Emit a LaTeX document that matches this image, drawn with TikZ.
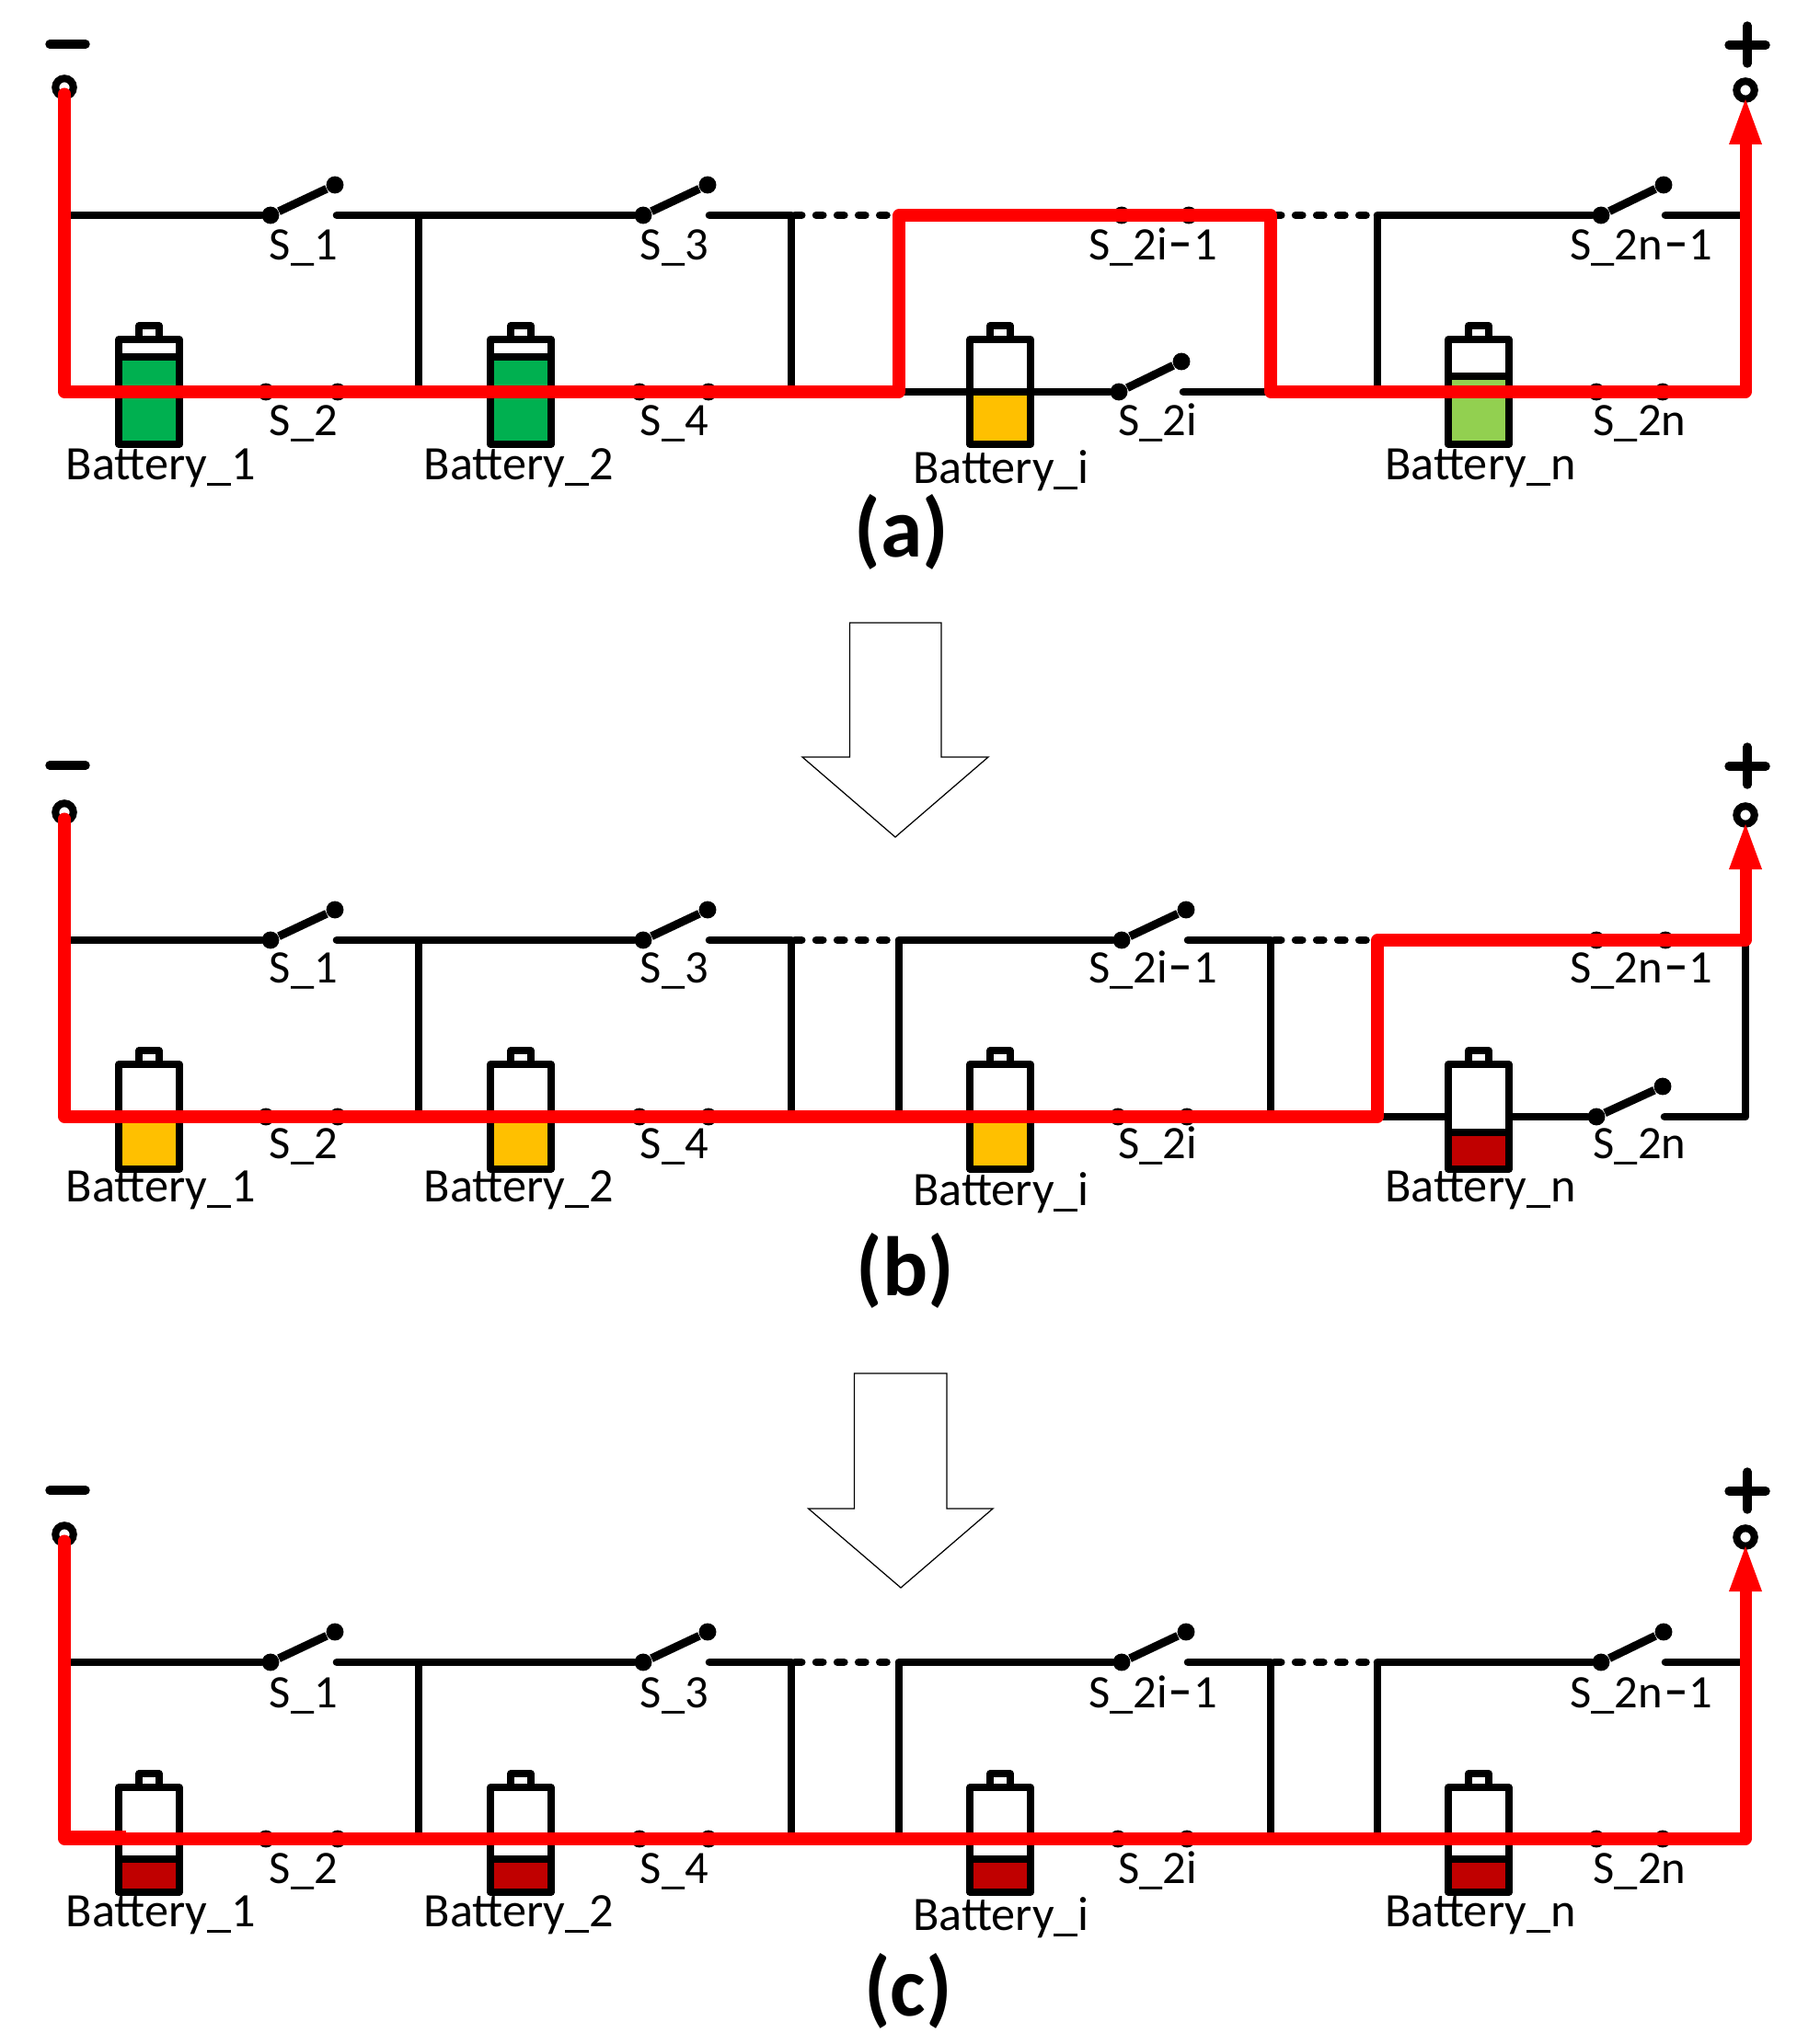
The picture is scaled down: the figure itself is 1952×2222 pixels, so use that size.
\documentclass[tikz,border=0pt]{standalone}
\usepackage{fontspec}
\usepackage{graphicx}
\setmainfont{Carlito}
\definecolor{fullgreen}{HTML}{00B050}
\definecolor{midgreen}{HTML}{92D050}
\definecolor{amber}{HTML}{FFC000}
\definecolor{lowred}{HTML}{C00000}
\definecolor{pathred}{HTML}{FF0000}
\tikzset{
 wire/.style={line width=3.1pt,line cap=round,line join=round,black},
 dotwire/.style={line width=3.1pt,line cap=round,dash pattern=on 2.6pt off 5.7pt,black},
 blade/.style={line width=3.2pt,black},
 vwire/.style={line width=2.8pt,black},
 swdot/.style={circle,fill=black,inner sep=0pt,minimum size=6.8pt},
 terminal/.style={circle,draw=black,fill=white,line width=2.9pt,inner sep=0pt,minimum size=7pt},
 sign/.style={line width=3.4pt,line cap=round,black},
 power/.style={line width=4.7pt,pathred,line join=round,line cap=round},
 powertip/.style={fill=pathred,draw=none},
 swlabel/.style={font=\fontsize{18.2}{20}\selectfont,inner sep=0pt,anchor=base},
 batlabel/.style={font=\fontsize{18.8}{20}\selectfont,inner sep=0pt,anchor=base},
 caption/.style={font=\bfseries\fontsize{33}{36}\selectfont,inner sep=0pt,anchor=base},
 battbody/.style={draw=black,fill=white,line width=2.7pt,line join=round,inner sep=0pt,minimum width=23.8pt,minimum height=41pt},
 battline/.style={draw=black,line width=2.7pt,line join=round},
 bigarrow/.style={draw=black,fill=white,line width=0.45pt}
}
\newcommand{\hy}{\kern0.7pt\scalebox{1.6}[1.15]{-}\kern0.7pt}
\newcommand{\openSw}[4]{%
 \node[swdot] (#1L) at (#2,#4) {};
 \node[swdot] (#1R) at (#3,#4-33) {};
 \draw[blade] (#1L) -- (#1R);
 \coordinate (#1E) at (#3+2,#4);}
\newcommand{\closedSw}[4]{%
 \node[swdot] (#1L) at (#2,#4) {};
 \node[swdot] (#1R) at (#3,#4) {};}
\newcommand{\junctions}[2]{%
 \coordinate (#1T0) at (70,234); \coordinate (#1B0) at (70,426);
 \coordinate (#1T1) at (455,234); \coordinate (#1B1) at (455,426);
 \coordinate (#1T2) at (860,234); \coordinate (#1B2) at (860,426);
 \coordinate (#1T3) at (977,234); \coordinate (#1B3) at (977,426);
 \coordinate (#1T4) at (1381,234); \coordinate (#1B4) at (1381,426);
 \coordinate (#1T5) at (1497,234); \coordinate (#1B5) at (1497,426);
 \coordinate (#1T6) at (1897,234); \coordinate (#1B6) at (1897,426);
 \coordinate (#1D2) at (864,234); \coordinate (#1D3) at (976,234);
 \coordinate (#1D4) at (1385,234); \coordinate (#1D5) at (1497,234);
 \coordinate (#1Base) at (1897,157); \coordinate (#1Tip) at (1897,108);
 \coordinate (#1Start) at (70,102);
 \node[terminal] (#1Neg) at (70,95) {};
 \node[terminal] (#1Pos) at (1897,98) {};
 \begin{scope}[shift={(0,#2)}]
 \coordinate (#1MinL) at (54,47); \coordinate (#1MinR) at (93,47);
 \coordinate (#1PlL) at (1879,48); \coordinate (#1PlR) at (1919,48);
 \coordinate (#1PlT) at (1899,27); \coordinate (#1PlB) at (1899,68);
 \draw[sign] (#1MinL) -- (#1MinR);
 \draw[sign] (#1PlL) -- (#1PlR);
 \draw[sign] (#1PlT) -- (#1PlB);
 \end{scope}
}
\newcommand{\battery}[4]{% name, left x, fill top, colour
 \draw[battline,fill=white] (#2+25,354) rectangle (#2+47,370);
 \node[battbody] (#1) at (#2+36,426) {};
 \draw[battline,fill=#4] (#2+3,#3) rectangle (#2+69,482.5);
}
\newcommand{\labels}[2]{%
 \begin{scope}[shift={(0,#2)}]
 \node[swlabel] (#1l1) at (330,283) {S\_1};
 \node[swlabel] (#1l3) at (733,283) {S\_3};
 \node[swlabel] (#1l5) at (1253,283) {S\_2i\hy1};
 \node[swlabel] (#1l7) at (1784,283) {S\_2n\hy1};
 \node[swlabel] (#1l2) at (330,474) {S\_2};
 \node[swlabel] (#1l4) at (733,474) {S\_4};
 \node[swlabel] (#1l6) at (1258,474) {S\_2i};
 \node[swlabel] (#1l8) at (1782,474) {S\_2n};
 \node[batlabel] (#1b1) at (175,521) {Battery\_1};
 \node[batlabel] (#1b2) at (564,521) {Battery\_2};
 \node[batlabel] (#1b3) at (1088,525) {Battery\_i};
 \node[batlabel] (#1b4) at (1609,521) {Battery\_n};
 \end{scope}
}
\begin{document}
\begin{tikzpicture}[x=0.36pt,y=-0.36pt]
\useasboundingbox (0,0) rectangle (1952,2222);
%%% panel a
\begin{scope}
 \junctions{a}{1}
 \openSw{aS1}{294}{364}{234}
 \openSw{aS3}{699}{769}{234}
 \closedSw{aS5}{1219}{1292}{234}
 \openSw{aS7}{1740}{1808}{234}
 \closedSw{aS2}{289}{367}{426}
 \closedSw{aS4}{695}{770}{426}
 \openSw{aS6}{1216}{1284}{426}
 \closedSw{aS8}{1735}{1807}{426}
 \draw[wire] (aT0) -- (aS1L);
 \draw[wire] (aS1E) -- (aT1) -- (aS3L);
 \draw[wire] (aS3E) -- (aT2);
 \draw[dotwire] (aD2) -- (aD3);
 \draw[dotwire] (aD4) -- (aD5);
 \draw[wire] (aT5) -- (aS7L);
 \draw[wire] (aS7E) -- (aT6);
 \draw[wire] (aB3) -- (aS6L);
 \draw[wire] (aS6E) -- (aB4);
 \draw[vwire] (aT1) -- (aB1);
 \draw[vwire] (aT2) -- (aB2);
 \draw[vwire] (aT5) -- (aB5);
 \battery{aBat1}{126}{388}{fullgreen}
 \battery{aBat2}{530}{388}{fullgreen}
 \battery{aBat3}{1051}{426}{amber}
 \battery{aBat4}{1571}{409}{midgreen}
 \draw[power] (aStart) -- (aB0) -- (aB3) -- (aT3) -- (aT4) -- (aB4) -- (aB6) -- (aBase);
 \draw[powertip] (1879,157) -- (aTip) -- (1915,157) -- cycle;
 \labels{a}{0}
 \node[caption] (capA) at (980,605) {(a)};
\end{scope}
%%% arrow 1
\draw[bigarrow] (923.4,677) -- (1023,677) -- (1023,823) -- (1074,823) -- (973,910) -- (872,823) -- (923.4,823) -- cycle;
%%% panel b
\begin{scope}[shift={(0,788)}]
 \junctions{b}{-3}
 \openSw{bS1}{294}{364}{234}
 \openSw{bS3}{699}{769}{234}
 \openSw{bS5}{1219}{1289}{234}
 \closedSw{bS7}{1735}{1810}{234}
 \closedSw{bS2}{289}{367}{426}
 \closedSw{bS4}{695}{770}{426}
 \closedSw{bS6}{1215}{1290}{426}
 \openSw{bS8}{1735}{1807}{426}
 \draw[wire] (bT0) -- (bS1L);
 \draw[wire] (bS1E) -- (bT1) -- (bS3L);
 \draw[wire] (bS3E) -- (bT2);
 \draw[dotwire] (bD2) -- (bD3);
 \draw[wire] (bT3) -- (bS5L);
 \draw[wire] (bS5E) -- (bT4);
 \draw[dotwire] (bD4) -- (bD5);
 \draw[wire] (bB5) -- (bS8L);
 \draw[wire] (bS8E) -- (bB6) -- (bT6);
 \draw[vwire] (bT1) -- (bB1);
 \draw[vwire] (bT2) -- (bB2);
 \draw[vwire] (bT3) -- (bB3);
 \draw[vwire] (bT4) -- (bB4);
 \battery{bBat1}{126}{426}{amber}
 \battery{bBat2}{530}{426}{amber}
 \battery{bBat3}{1051}{426}{amber}
 \battery{bBat4}{1571}{443}{lowred}
 \draw[power] (bStart) -- (bB0) -- (bB5) -- (bT5) -- (bT6) -- (bBase);
 \draw[powertip] (1879,157) -- (bTip) -- (1915,157) -- cycle;
 \labels{b}{-3}
 \node[caption] (capB) at (984,620) {(b)};
\end{scope}
%%% arrow 2
\draw[bigarrow] (928.4,1493) -- (1029,1493) -- (1029,1640) -- (1079,1640) -- (979,1726) -- (878.6,1640) -- (928.4,1640) -- cycle;
%%% panel c
\begin{scope}[shift={(0,1573)}]
 \junctions{c}{0}
 \openSw{cS1}{294}{364}{234}
 \openSw{cS3}{699}{769}{234}
 \openSw{cS5}{1219}{1289}{234}
 \openSw{cS7}{1740}{1808}{234}
 \closedSw{cS2}{289}{367}{426}
 \closedSw{cS4}{695}{770}{426}
 \closedSw{cS6}{1215}{1290}{426}
 \closedSw{cS8}{1735}{1807}{426}
 \draw[wire] (cT0) -- (cS1L);
 \draw[wire] (cS1E) -- (cT1) -- (cS3L);
 \draw[wire] (cS3E) -- (cT2);
 \draw[dotwire] (cD2) -- (cD3);
 \draw[wire] (cT3) -- (cS5L);
 \draw[wire] (cS5E) -- (cT4);
 \draw[dotwire] (cD4) -- (cD5);
 \draw[wire] (cT5) -- (cS7L);
 \draw[wire] (cS7E) -- (cT6);
 \draw[vwire] (cT1) -- (cB1);
 \draw[vwire] (cT2) -- (cB2);
 \draw[vwire] (cT3) -- (cB3);
 \draw[vwire] (cT4) -- (cB4);
 \draw[vwire] (cT5) -- (cB5);
 \begin{scope}[shift={(0,1)}]
 \battery{cBat1}{126}{447}{lowred}
 \battery{cBat2}{530}{447}{lowred}
 \battery{cBat3}{1051}{447}{lowred}
 \battery{cBat4}{1571}{447}{lowred}
 \end{scope}
 \coordinate (cBump) at (137,424);
 \draw[power] (cStart) -- (cB0) -- (cB6) -- (cBase);
 \draw[power,line cap=butt] (cT0 |- cBump) -- (cBump);
 \draw[powertip] (1879,157) -- (cTip) -- (1915,157) -- cycle;
 \labels{c}{0}
 \node[caption] (capC) at (987,618) {(c)};
\end{scope}
\end{tikzpicture}
\end{document}
